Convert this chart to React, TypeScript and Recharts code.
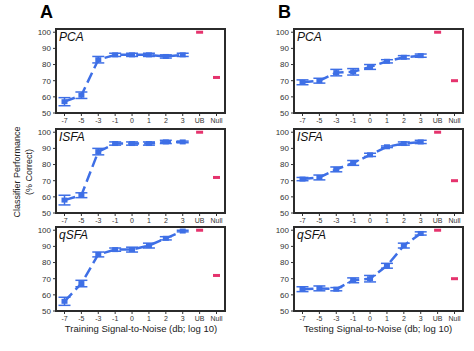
import { ComposedChart, ErrorBar, Line, XAxis, YAxis } from "recharts";

const categories = ["-7", "-5", "-3", "-1", "0", "1", "2", "3", "UB", "Null"];

// classifier performance (% correct), 8 SNR levels, then UB / Null references
const trainPca = [57, 61, 83, 86, 86, 86, 85, 86];
const trainPcaErr = [2.5, 2, 2, 1, 1, 1, 1, 1];
const trainIsfa = [58, 61, 88, 93, 93, 93, 94, 94];
const trainIsfaErr = [3, 1.5, 2, 1, 1, 1, 1, 0.5];
const trainQsfa = [56, 67, 85, 88, 88, 90.5, 95, 99.5];
const trainQsfaErr = [2.5, 2, 1.5, 1, 1.5, 1.5, 1, 0.5];

const testPca = [69, 70, 75, 75.5, 78.5, 82, 84.5, 85.5];
const testPcaErr = [1.5, 1.5, 2, 2, 1.5, 1, 1, 1];
const testIsfa = [71, 72, 77, 81, 86, 91, 93, 94];
const testIsfaErr = [1, 1.5, 1.5, 1.5, 1, 0.5, 1, 1];
const testQsfa = [63.5, 64, 63.5, 69, 70, 78, 90.5, 98];
const testQsfaErr = [1.5, 1.5, 1, 1.5, 2, 1.5, 1.5, 1];

const trainRefs = [100, 72];
const testRefs = [100, 70];

const yTicks = [50, 60, 70, 80, 90, 100];

const BLUE = "#3e6fe6";
const RED = "#e5336d";
const FONT = "'Liberation Sans', Arial, sans-serif";

function buildRows(vals: number[], errs: number[], refs: number[]) {
  return categories.map((c, i) => ({
    cat: c,
    v: i < vals.length ? vals[i] : null,
    err: i < errs.length ? errs[i] : null,
    ref: i >= vals.length ? refs[i - vals.length] : null,
  }));
}

const BlueDot = (p: any) => {
  if (p.value == null || p.cy == null) return <g key={p.key} />;
  return <rect key={p.key} x={p.cx - 3} y={p.cy - 2.5} width={6} height={5} fill={BLUE} />;
};

const RedDot = (p: any) => {
  if (p.value == null || p.cy == null) return <g key={p.key} />;
  return <rect key={p.key} x={p.cx - 3.5} y={p.cy - 1.5} width={7} height={3} fill={RED} />;
};

function Panel({ left, top, title, vals, errs, refs }: { left: number; top: number; title: string; vals: number[]; errs: number[]; refs: number[] }) {
  const data = buildRows(vals, errs, refs);
  const boxW = 169;
  const boxH = 84;
  return (
    <>
      <div style={{ position: "absolute", left: left - 25, top: top - 4 }}>
        <ComposedChart width={25 + boxW + 2} height={4 + boxH + 14} data={data} margin={{ top: 4, right: 2, bottom: 0, left: 0 }}>
          <XAxis
            dataKey="cat"
            interval={0}
            padding={{ left: 8.5, right: 8.5 }}
            axisLine={false}
            tickSize={3}
            tickLine={{ stroke: "#333" }}
            tick={{ fontSize: 7, fill: "#333", fontFamily: FONT }}
            height={14}
          />
          <YAxis
            domain={[50, 102]}
            ticks={yTicks}
            interval={0}
            allowDataOverflow
            width={25}
            axisLine={false}
            tickSize={3}
            tickLine={{ stroke: "#333" }}
            tick={{ fontSize: 8, fill: "#333", fontFamily: FONT }}
          />
          <Line
            dataKey="v"
            stroke={BLUE}
            strokeWidth={2.5}
            strokeDasharray="11 5"
            dot={BlueDot}
            isAnimationActive={false}
          >
            <ErrorBar dataKey="err" width={6} stroke={BLUE} strokeWidth={1.5} />
          </Line>
          <Line dataKey="ref" stroke="none" dot={RedDot} isAnimationActive={false} />
        </ComposedChart>
      </div>
      <div
        style={{
          position: "absolute",
          left: left - 1,
          top: top - 1,
          width: boxW + 2,
          height: boxH + 2,
          border: "2px solid #2b2b2b",
          boxSizing: "border-box",
          pointerEvents: "none",
        }}
      />
      <div style={{ position: "absolute", left: left + 3, top: top + 1, fontSize: 12, fontStyle: "italic", fontFamily: FONT, color: "#111" }}>
        {title}
      </div>
    </>
  );
}

export default function App() {
  const colA = 56;
  const colB = 294;
  const rows = [29, 129, 227];
  return (
    <div style={{ position: "absolute", left: 0, top: 0, width: 474, height: 351, background: "#fff", fontFamily: FONT, overflow: "hidden" }}>
      <div style={{ position: "absolute", left: 40, top: 2, fontSize: 18, fontWeight: "bold" }}>A</div>
      <div style={{ position: "absolute", left: 278, top: 2, fontSize: 18, fontWeight: "bold" }}>B</div>

      <Panel left={colA} top={rows[0]} title="PCA" vals={trainPca} errs={trainPcaErr} refs={trainRefs} />
      <Panel left={colA} top={rows[1]} title="ISFA" vals={trainIsfa} errs={trainIsfaErr} refs={trainRefs} />
      <Panel left={colA} top={rows[2]} title="qSFA" vals={trainQsfa} errs={trainQsfaErr} refs={trainRefs} />
      <Panel left={colB} top={rows[0]} title="PCA" vals={testPca} errs={testPcaErr} refs={testRefs} />
      <Panel left={colB} top={rows[1]} title="ISFA" vals={testIsfa} errs={testIsfaErr} refs={testRefs} />
      <Panel left={colB} top={rows[2]} title="qSFA" vals={testQsfa} errs={testQsfaErr} refs={testRefs} />

      <div
        style={{
          position: "absolute",
          left: 23,
          top: 172,
          transform: "translate(-50%, -50%) rotate(-90deg)",
          fontSize: 9,
          textAlign: "center",
          lineHeight: "12px",
          whiteSpace: "nowrap",
          color: "#222",
        }}
      >
        Classifier Performance
        <br />
        (% Correct)
      </div>
      <div style={{ position: "absolute", left: 141, top: 323, transform: "translateX(-50%)", fontSize: 9.5, whiteSpace: "nowrap", color: "#222" }}>
        Training Signal-to-Noise (db; log 10)
      </div>
      <div style={{ position: "absolute", left: 378, top: 323, transform: "translateX(-50%)", fontSize: 9.5, whiteSpace: "nowrap", color: "#222" }}>
        Testing Signal-to-Noise (db; log 10)
      </div>
    </div>
  );
}
